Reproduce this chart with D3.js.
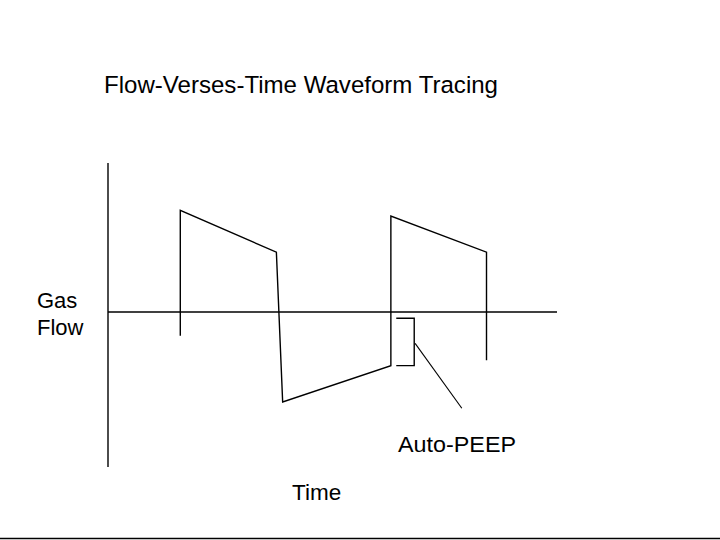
<!DOCTYPE html>
<html>
<head>
<meta charset="utf-8">
<script src="https://cdn.jsdelivr.net/npm/d3@7"></script>
<style>
  body { margin: 0; background: #fff; }
  text { font-family: "Liberation Sans", Arial, sans-serif; fill: #000; }
</style>
</head>
<body>
<svg id="drawing_region"></svg>
<script>
// waveform trace: time vs gas flow (arbitrary units, 0 = no flow)
const waveTime = [16.1, 16.1, 37.5, 38.9, 63.0, 63.0, 84.3, 84.3];
const waveFlow = [-8.0, 34.1, 20.1, -30.2, -18.0, 32.2, 20.1, -16.2];

// auto-PEEP bracket and leader line
const bracketTime = [64.2, 68.2, 68.2, 64.2];
const bracketFlow = [-2.1, -2.1, -18.0, -18.0];
const leaderTime = [68.4, 78.8];
const leaderFlow = [-10.5, -32.3];

const width = 720, height = 540;

const svg = d3.select('#drawing_region')
    .attr('width', width)
    .attr('height', height);

const x = d3.scaleLinear().domain([0, 100]).range([108, 557]);
const y = d3.scaleLinear().domain([-52, 50]).range([467, 163]);

const toPts = (ts, fs) => ts.map((t, i) => [x(t), y(fs[i])]);
const line = d3.line();

// axes (plain lines, no ticks)
svg.append('line')
    .attr('x1', x(0)).attr('x2', x(0))
    .attr('y1', y(50)).attr('y2', y(-52))
    .attr('stroke', '#000').attr('stroke-width', 1.4);
svg.append('line')
    .attr('x1', x(0)).attr('x2', x(100))
    .attr('y1', y(0)).attr('y2', y(0))
    .attr('stroke', '#000').attr('stroke-width', 1.4);

svg.append('path')
    .attr('d', line(toPts(waveTime, waveFlow)))
    .attr('fill', 'none')
    .attr('stroke', '#000')
    .attr('stroke-width', 1.4);

svg.append('path')
    .attr('d', line(toPts(bracketTime, bracketFlow)))
    .attr('fill', 'none')
    .attr('stroke', '#000')
    .attr('stroke-width', 1.4);

svg.append('path')
    .attr('d', line(toPts(leaderTime, leaderFlow)))
    .attr('fill', 'none')
    .attr('stroke', '#000')
    .attr('stroke-width', 1.1);

// bottom rule
svg.append('line')
    .attr('x1', 0).attr('x2', width)
    .attr('y1', 538.5).attr('y2', 538.5)
    .attr('stroke', '#000').attr('stroke-width', 1.5);

// texts
svg.append('text')
    .attr('x', 104).attr('y', 93)
    .attr('textLength', 394)
    .attr('lengthAdjust', 'spacingAndGlyphs')
    .style('font-size', '24.5px')
    .text('Flow-Verses-Time Waveform Tracing');

const yLab = svg.append('text')
    .attr('x', 37).attr('y', 307.5)
    .style('font-size', '22px');
yLab.append('tspan').attr('x', 37).text('Gas');
yLab.append('tspan').attr('x', 37).attr('dy', 27.5).text('Flow');

svg.append('text')
    .attr('x', 292).attr('y', 499.5)
    .style('font-size', '22.5px')
    .text('Time');

svg.append('text')
    .attr('x', 398).attr('y', 451.5)
    .attr('textLength', 118)
    .attr('lengthAdjust', 'spacingAndGlyphs')
    .style('font-size', '22px')
    .text('Auto-PEEP');
</script>
</body>
</html>
